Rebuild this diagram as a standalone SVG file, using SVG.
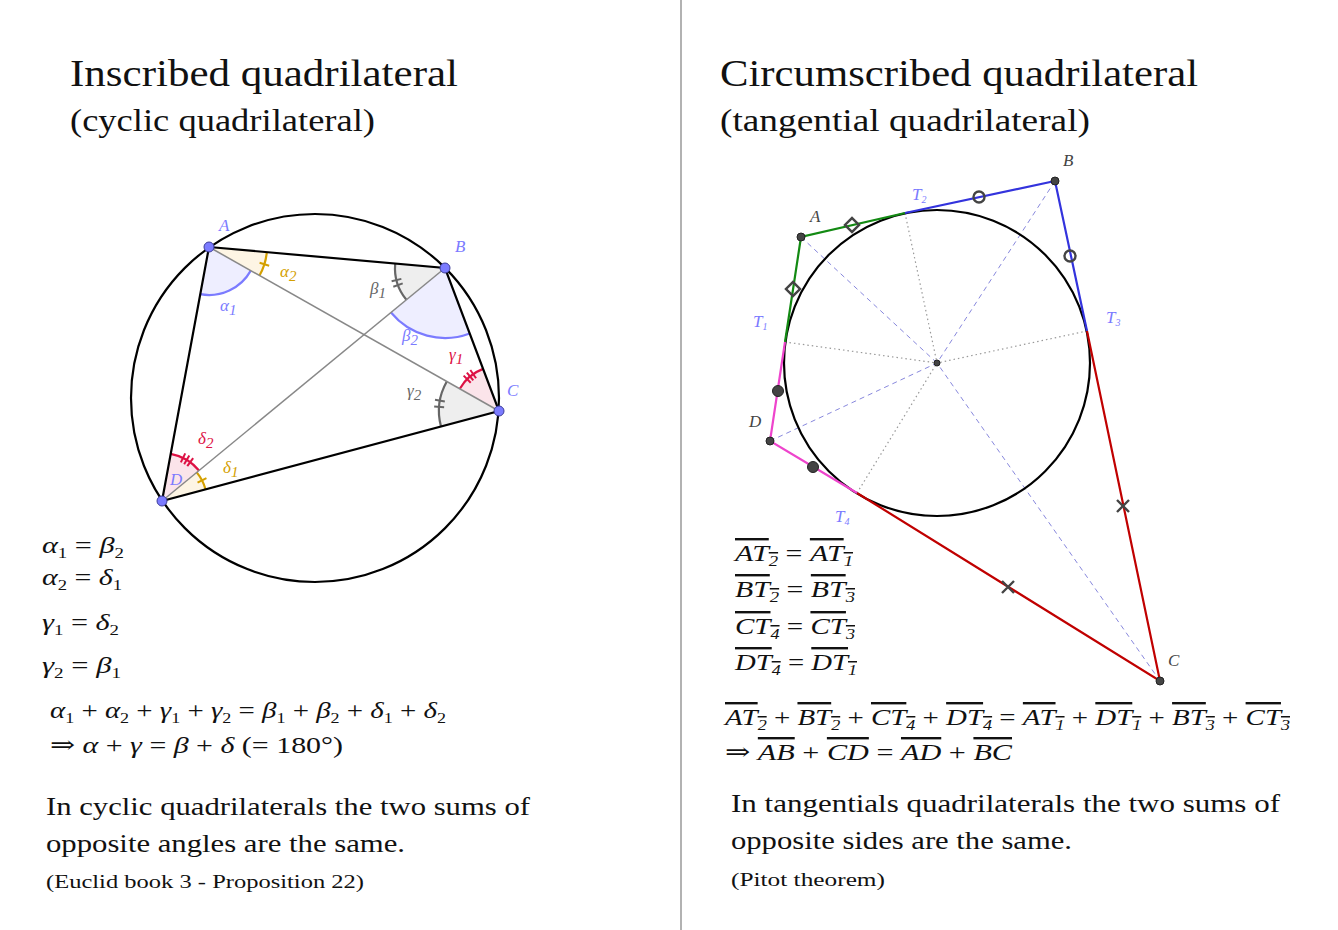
<svg xmlns="http://www.w3.org/2000/svg" width="1338" height="930" viewBox="0 0 1338 930">
<style>
text{font-family:"Liberation Serif","DejaVu Serif",serif;fill:#111}
.t1{font-size:37px}.t2{font-size:31px}.eq{font-size:24px}.p{font-size:25px}.sm{font-size:19px}
.i{font-style:italic}.s{font-size:15px}
.ol{text-decoration:overline}
.lab{font-style:italic;font-size:17px}
.k{fill:none;stroke-width:2.2}
.v{fill:#7b7bff;stroke:#3d3d99;stroke-width:1}
.pt{fill:#444;stroke:#222;stroke-width:1}
.dash{stroke:#8888dd;stroke-width:1;stroke-dasharray:5,4;fill:none}
.dot{stroke:#999;stroke-width:1.2;stroke-dasharray:1.5,3;fill:none}
.cb{fill:#7b7bff}.cy{fill:#d4a000}.cg{fill:#666}.cr{fill:#dd1144}.cd{fill:#444}
</style>
<line x1="681" y1="0" x2="681" y2="930" stroke="#999" stroke-width="1.5"/>
<text class="t1" x="70" y="86" textLength="388" lengthAdjust="spacingAndGlyphs">Inscribed quadrilateral</text>
<text class="t2" x="70" y="131" textLength="305" lengthAdjust="spacingAndGlyphs">(cyclic quadrilateral)</text>
<text class="t1" x="720" y="86" textLength="478" lengthAdjust="spacingAndGlyphs">Circumscribed quadrilateral</text>
<text class="t2" x="720" y="131" textLength="370" lengthAdjust="spacingAndGlyphs">(tangential quadrilateral)</text>

<g id="left-fig">
<g id="angles">
<path d="M209,247 L250.8,270.6 A48,48 0 0 1 200.3,294.2 Z" fill="#eeeeff"/>
<path d="M250.8,270.6 A48,48 0 0 1 200.3,294.2" stroke="#7b7bff" class="k"/>
<path d="M209,247 L266.8,252.2 A58,58 0 0 1 259.5,275.5 Z" fill="#fdf5e4"/>
<path d="M266.8,252.2 A58,58 0 0 1 259.5,275.5" stroke="#d4a000" class="k"/>
<path d="M445,268 L406.4,299.8 A50,50 0 0 1 395.2,263.6 Z" fill="#eeeeee"/>
<path d="M406.4,299.8 A50,50 0 0 1 395.2,263.6" stroke="#666" class="k"/>
<path d="M445,268 L469.7,333.5 A70,70 0 0 1 391,312.5 Z" fill="#eeeeff"/>
<path d="M469.7,333.5 A70,70 0 0 1 391,312.5" stroke="#7b7bff" class="k"/>
<path d="M499,411 L459.8,388.8 A45,45 0 0 1 483.1,368.9 Z" fill="#fbe4ea"/>
<path d="M459.8,388.8 A45,45 0 0 1 483.1,368.9" stroke="#dd1144" class="k"/>
<path d="M499,411 L441,426.5 A60,60 0 0 1 446.8,381.5 Z" fill="#eeeeee"/>
<path d="M441,426.5 A60,60 0 0 1 446.8,381.5" stroke="#666" class="k"/>
<path d="M162,501 L170.7,453.8 A48,48 0 0 1 199,470.5 Z" fill="#fbe4ea"/>
<path d="M170.7,453.8 A48,48 0 0 1 199,470.5" stroke="#dd1144" class="k"/>
<path d="M162,501 L196.7,472.4 A45,45 0 0 1 205.5,489.3 Z" fill="#fdf5e4"/>
<path d="M196.7,472.4 A45,45 0 0 1 205.5,489.3" stroke="#d4a000" class="k"/>
<g stroke-width="2">
<line transform="translate(209,247) rotate(17.3)" x1="53" x2="63" stroke="#d4a000"/>
<line transform="translate(162,501) rotate(-27.3)" x1="40" x2="50" stroke="#d4a000"/>
<line transform="translate(445,268) rotate(160)" x1="45" x2="55" stroke="#666"/>
<line transform="translate(445,268) rotate(166)" x1="45" x2="55" stroke="#666"/>
<line transform="translate(499,411) rotate(184)" x1="55" x2="65" stroke="#666"/>
<line transform="translate(499,411) rotate(190)" x1="55" x2="65" stroke="#666"/>
<line transform="translate(499,411) rotate(225)" x1="40" x2="50" stroke="#dd1144"/>
<line transform="translate(499,411) rotate(230)" x1="40" x2="50" stroke="#dd1144"/>
<line transform="translate(499,411) rotate(235)" x1="40" x2="50" stroke="#dd1144"/>
<line transform="translate(162,501) rotate(-64)" x1="43" x2="53" stroke="#dd1144"/>
<line transform="translate(162,501) rotate(-59)" x1="43" x2="53" stroke="#dd1144"/>
<line transform="translate(162,501) rotate(-54)" x1="43" x2="53" stroke="#dd1144"/>
</g>
</g>
<circle cx="315" cy="398" r="184" class="k" stroke="#000"/>
<g stroke="#888" stroke-width="1.5"><line x1="209" y1="247" x2="499" y2="411"/><line x1="445" y1="268" x2="162" y2="501"/></g>
<polygon points="209,247 445,268 499,411 162,501" class="k" stroke="#000" stroke-width="2.5"/>
<circle class="v" cx="209" cy="247" r="5"/><circle class="v" cx="445" cy="268" r="5"/><circle class="v" cx="499" cy="411" r="5"/><circle class="v" cx="162" cy="501" r="5"/>
<g class="lab">
<text class="lab cb" x="219" y="231">A</text><text class="lab cb" x="455" y="252">B</text><text class="lab cb" x="507" y="396">C</text><text class="lab cb" x="170" y="485">D</text>
<text class="lab cb" x="220" y="311">α<tspan class="s" dy="4">1</tspan></text>
<text class="lab cy" x="280" y="277">α<tspan class="s" dy="4">2</tspan></text>
<text class="lab cg" x="370" y="294">β<tspan class="s" dy="4">1</tspan></text>
<text class="lab cb" x="402" y="341">β<tspan class="s" dy="4">2</tspan></text>
<text class="lab cr" x="449" y="360">γ<tspan class="s" dy="4">1</tspan></text>
<text class="lab cg" x="407" y="396">γ<tspan class="s" dy="4">2</tspan></text>
<text class="lab cr" x="198" y="444">δ<tspan class="s" dy="4">2</tspan></text>
<text class="lab cy" x="223" y="473">δ<tspan class="s" dy="4">1</tspan></text>
</g>
</g>

<g id="right-fig">
<g id="aux">
<path class="dash" d="M801,237 L937,363 M1055,181 L937,363 M1160,681 L937,363 M770,441 L937,363"/>
<path class="dot" d="M785,342 L937,363 M905,213 L937,363 M1087,331 L937,363 M857,493 L937,363"/>
</g>
<circle cx="937" cy="363" r="153" class="k" stroke="#000"/>
<g id="sides" stroke-width="2.2" fill="none">
<path d="M905,213 L801,237 L785,342" stroke="#138a13"/>
<path d="M905,213 L1055,181 L1087,331" stroke="#3333dd"/>
<path d="M1087,331 L1160,681 L857,493" stroke="#c00000"/>
<path d="M785,342 L770,441 L857,493" stroke="#ee44cc"/>
</g>
<g id="marks" stroke="#444" stroke-width="2.4" fill="none">
<rect x="-5" y="-5" width="10" height="10" transform="translate(852,225) rotate(45)"/>
<rect x="-5" y="-5" width="10" height="10" transform="translate(793,289) rotate(45)"/>
<circle cx="979" cy="197" r="5.5"/><circle cx="1070" cy="256" r="5.5"/>
<path d="M1117,500 l12,12 M1129,500 l-12,12 M1002,581 l12,12 M1014,581 l-12,12"/>
</g>
<circle class="pt" cx="778" cy="391" r="5.5"/><circle class="pt" cx="813" cy="467" r="5.5"/>
<circle class="pt" cx="801" cy="237" r="4"/><circle class="pt" cx="1055" cy="181" r="4"/><circle class="pt" cx="1160" cy="681" r="4"/><circle class="pt" cx="770" cy="441" r="4"/><circle class="pt" cx="937" cy="363" r="3"/>
<text class="lab cd" x="810" y="222">A</text><text class="lab cd" x="1063" y="166">B</text><text class="lab cd" x="1168" y="666">C</text><text class="lab cd" x="749" y="427">D</text>
<text class="lab cb" font-size="14" x="753" y="327">T<tspan font-size="10" dy="3">1</tspan></text>
<text class="lab cb" font-size="14" x="912" y="200">T<tspan font-size="10" dy="3">2</tspan></text>
<text class="lab cb" font-size="14" x="1106" y="323">T<tspan font-size="10" dy="3">3</tspan></text>
<text class="lab cb" font-size="14" x="835" y="522">T<tspan font-size="10" dy="3">4</tspan></text>
</g>

<g id="left-text" class="eq">
<text x="42" y="553" textLength="82" lengthAdjust="spacingAndGlyphs"><tspan class="i">α</tspan><tspan class="s" dy="5">1</tspan><tspan dy="-5"> = </tspan><tspan class="i">β</tspan><tspan class="s" dy="5">2</tspan></text>
<text x="42" y="585" textLength="80" lengthAdjust="spacingAndGlyphs"><tspan class="i">α</tspan><tspan class="s" dy="5">2</tspan><tspan dy="-5"> = </tspan><tspan class="i">δ</tspan><tspan class="s" dy="5">1</tspan></text>
<text x="42" y="630" textLength="77" lengthAdjust="spacingAndGlyphs"><tspan class="i">γ</tspan><tspan class="s" dy="5">1</tspan><tspan dy="-5"> = </tspan><tspan class="i">δ</tspan><tspan class="s" dy="5">2</tspan></text>
<text x="42" y="673" textLength="79" lengthAdjust="spacingAndGlyphs"><tspan class="i">γ</tspan><tspan class="s" dy="5">2</tspan><tspan dy="-5"> = </tspan><tspan class="i">β</tspan><tspan class="s" dy="5">1</tspan></text>
<text x="50" y="718" textLength="396" lengthAdjust="spacingAndGlyphs"><tspan class="i">α</tspan><tspan class="s" dy="5">1</tspan><tspan dy="-5"> + </tspan><tspan class="i">α</tspan><tspan class="s" dy="5">2</tspan><tspan dy="-5"> + </tspan><tspan class="i">γ</tspan><tspan class="s" dy="5">1</tspan><tspan dy="-5"> + </tspan><tspan class="i">γ</tspan><tspan class="s" dy="5">2</tspan><tspan dy="-5"> = </tspan><tspan class="i">β</tspan><tspan class="s" dy="5">1</tspan><tspan dy="-5"> + </tspan><tspan class="i">β</tspan><tspan class="s" dy="5">2</tspan><tspan dy="-5"> + </tspan><tspan class="i">δ</tspan><tspan class="s" dy="5">1</tspan><tspan dy="-5"> + </tspan><tspan class="i">δ</tspan><tspan class="s" dy="5">2</tspan></text>
<text x="50" y="753" textLength="293" lengthAdjust="spacingAndGlyphs">⇒ <tspan class="i">α</tspan> + <tspan class="i">γ</tspan> = <tspan class="i">β</tspan> + <tspan class="i">δ</tspan>   (= 180°)</text>
<text class="p" x="46" y="815" textLength="484" lengthAdjust="spacingAndGlyphs">In cyclic quadrilaterals the two sums of</text>
<text class="p" x="46" y="852" textLength="359" lengthAdjust="spacingAndGlyphs">opposite angles are the same.</text>
<text class="sm" x="46" y="888" textLength="318" lengthAdjust="spacingAndGlyphs">(Euclid book 3 - Proposition 22)</text>
</g>

<g id="right-text" class="eq">
<text x="735" y="561" textLength="118" lengthAdjust="spacingAndGlyphs"><tspan class="i ol">AT<tspan class="s" dy="5">2</tspan></tspan><tspan dy="-5"> = </tspan><tspan class="i ol">AT<tspan class="s" dy="5">1</tspan></tspan></text>
<text x="735" y="597" textLength="120" lengthAdjust="spacingAndGlyphs"><tspan class="i ol">BT<tspan class="s" dy="5">2</tspan></tspan><tspan dy="-5"> = </tspan><tspan class="i ol">BT<tspan class="s" dy="5">3</tspan></tspan></text>
<text x="735" y="634" textLength="120" lengthAdjust="spacingAndGlyphs"><tspan class="i ol">CT<tspan class="s" dy="5">4</tspan></tspan><tspan dy="-5"> = </tspan><tspan class="i ol">CT<tspan class="s" dy="5">3</tspan></tspan></text>
<text x="735" y="670" textLength="122" lengthAdjust="spacingAndGlyphs"><tspan class="i ol">DT<tspan class="s" dy="5">4</tspan></tspan><tspan dy="-5"> = </tspan><tspan class="i ol">DT<tspan class="s" dy="5">1</tspan></tspan></text>
<text x="725" y="725" textLength="565" lengthAdjust="spacingAndGlyphs"><tspan class="i ol">AT<tspan class="s" dy="5">2</tspan></tspan><tspan dy="-5"> + </tspan><tspan class="i ol">BT<tspan class="s" dy="5">2</tspan></tspan><tspan dy="-5"> + </tspan><tspan class="i ol">CT<tspan class="s" dy="5">4</tspan></tspan><tspan dy="-5"> + </tspan><tspan class="i ol">DT<tspan class="s" dy="5">4</tspan></tspan><tspan dy="-5"> = </tspan><tspan class="i ol">AT<tspan class="s" dy="5">1</tspan></tspan><tspan dy="-5"> + </tspan><tspan class="i ol">DT<tspan class="s" dy="5">1</tspan></tspan><tspan dy="-5"> + </tspan><tspan class="i ol">BT<tspan class="s" dy="5">3</tspan></tspan><tspan dy="-5"> + </tspan><tspan class="i ol">CT<tspan class="s" dy="5">3</tspan></tspan></text>
<text x="725" y="760" textLength="287" lengthAdjust="spacingAndGlyphs">⇒ <tspan class="i ol">AB</tspan> + <tspan class="i ol">CD</tspan> = <tspan class="i ol">AD</tspan> + <tspan class="i ol">BC</tspan></text>
<text class="p" x="731" y="812" textLength="549" lengthAdjust="spacingAndGlyphs">In tangentials quadrilaterals the two sums of</text>
<text class="p" x="731" y="849" textLength="341" lengthAdjust="spacingAndGlyphs">opposite sides are the same.</text>
<text class="sm" x="731" y="886" textLength="154" lengthAdjust="spacingAndGlyphs">(Pitot theorem)</text>
</g>
</svg>
